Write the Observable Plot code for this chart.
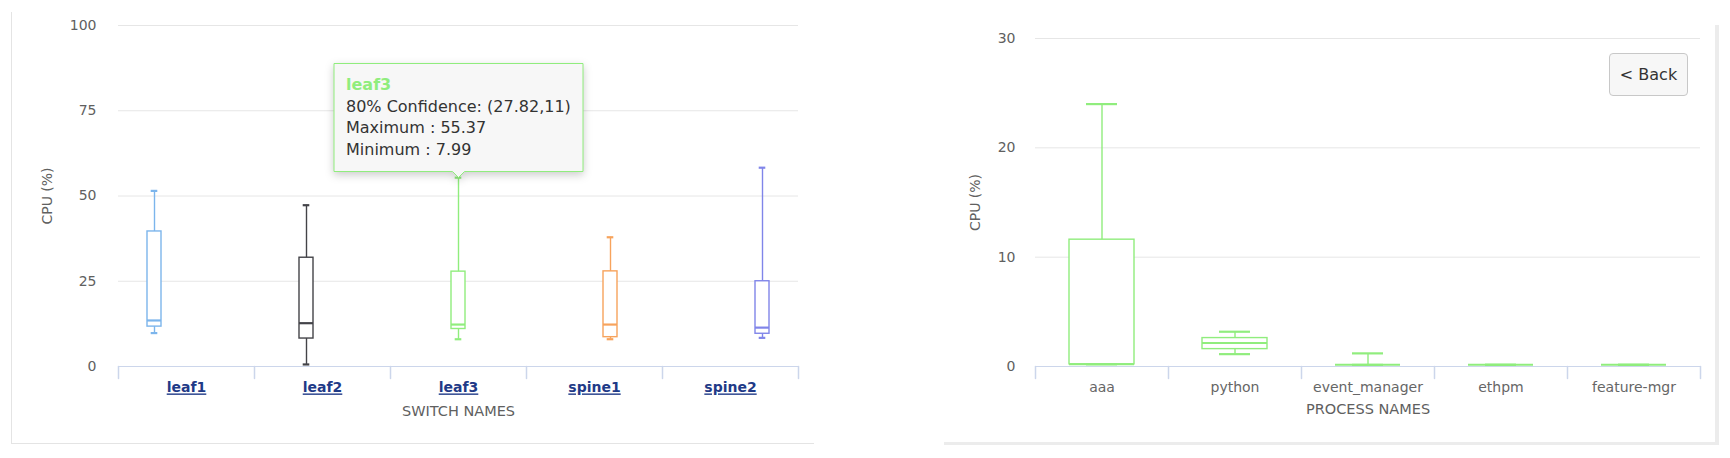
<!DOCTYPE html>
<html>
<head>
<meta charset="utf-8">
<script src="https://cdn.jsdelivr.net/npm/d3@7"></script>
<script src="https://cdn.jsdelivr.net/npm/@observablehq/plot@0.6"></script>
<style>
  body { margin: 0; background: #ffffff; font-family: "DejaVu Sans", sans-serif; }
  #page { position: relative; width: 1730px; height: 458px; overflow: hidden; background: #ffffff; }
  .panelL { position: absolute; left: 11px; top: 12px; width: 802px; height: 431px; border-left: 1px solid #e4e4e4; border-bottom: 1px solid #e4e4e4; }
  .panelR { position: absolute; left: 944px; top: 25px; width: 771px; height: 417px; border-right: 4px solid #ececec; border-bottom: 3px solid #ececec; }
  #left { position: absolute; left: 0; top: 0; }
  #right { position: absolute; left: 900px; top: 0; }
  .back { position: absolute; left: 1609px; top: 53px; width: 77px; height: 41px; border: 1px solid #c8c8c8; border-radius: 4px; background: #f7f7f7; font: 16px "DejaVu Sans", sans-serif; color: #333; display: flex; align-items: center; justify-content: center; }
  .leftplot g[aria-label="y-axis tick label"], .rightplot g[aria-label="y-axis tick label"] { font-size: 14px; }
  .leftplot g[aria-label="y-axis label"], .rightplot g[aria-label="y-axis label"] { font-size: 14px; }
  .leftplot g[aria-label="fx-axis tick label"], .rightplot g[aria-label="fx-axis tick label"] { font-size: 14px; }
  .leftplot g[aria-label="fx-axis tick label"] text { text-decoration: underline; }
  .leftplot g[aria-label="fx-axis label"], .rightplot g[aria-label="fx-axis label"] { font-size: 14.5px; }
  .leftplot g[aria-label="fx-axis label"] text,
  .rightplot g[aria-label="fx-axis label"] text { fill: #606060; font-weight: normal; }
  .leftplot g[aria-label="tip"] { font-size: 16px; }
  .leftplot g[aria-label="tip"] text { fill: #333333; }
  .leftplot g[aria-label="tip"] text > tspan:first-child { fill: #90ed7d; font-weight: bold; }
</style>
</head>
<body>
<div id="page">
  <div class="panelL"></div>
  <div class="panelR"></div>
  <div id="left"></div>
  <div id="right"></div>
  <div class="back">&lt; Back</div>
</div>
<script>
// ---- Left chart: CPU per switch ----
const switches = ["leaf1", "leaf2", "leaf3", "spine1", "spine2"];
const switchLow = [9.8, 0.6, 7.99, 8.0, 8.4];
const switchQ1 = [11.7, 8.2, 11, 8.6, 9.6];
const switchMedian = [13.5, 12.7, 12.3, 12.3, 11.4];
const switchQ3 = [39.6, 31.9, 27.82, 27.9, 25.0];
const switchHigh = [51.5, 47.3, 55.37, 37.9, 58.3];
const switchColors = ["#7cb5ec", "#434348", "#90ed7d", "#f7a35c", "#8085e9"];
const switchTicks = [0, 25, 50, 75, 100];
const tooltipSwitch = "leaf3";

// ---- Right chart: CPU per process (drilldown of leaf3) ----
const processes = ["aaa", "python", "event_manager", "ethpm", "feature-mgr"];
const procLow = [0.2, 1.13, 0.15, 0.15, 0.15];
const procQ1 = [0.2, 1.59, 0.15, 0.15, 0.15];
const procMedian = [0.2, 2.14, 0.15, 0.15, 0.15];
const procQ3 = [11.6, 2.6, 0.15, 0.15, 0.15];
const procHigh = [24.0, 3.18, 1.2, 0.15, 0.15];
const processTicks = [0, 10, 20, 30];
const processSeries = "leaf3";

const switchRows = switches.map((name, i) => ({
  name, low: switchLow[i], q1: switchQ1[i], median: switchMedian[i], q3: switchQ3[i], high: switchHigh[i]
}));
const procRows = processes.map((proc, i) => ({
  proc, series: processSeries, low: procLow[i], q1: procQ1[i], median: procMedian[i], q3: procQ3[i], high: procHigh[i]
}));

const tickShape = { draw(context, l) { context.moveTo(0, 0); context.lineTo(0, -l); } };
const axisColor = "#ccd6eb";
const gridColor = "#e6e6e6";
const labelColor = "#606060";
const font = '"DejaVu Sans", sans-serif';

const leftPlot = Plot.plot({
  className: "leftplot",
  width: 830, height: 458,
  marginLeft: 116, marginRight: 30, marginTop: 25, marginBottom: 92,
  style: { fontFamily: font, fontSize: "14px", color: labelColor, background: "transparent", overflow: "visible" },
  fx: { domain: switches, padding: 0 },
  x: { domain: switches, paddingInner: 0.1, paddingOuter: 1.72, axis: null },
  y: { domain: [0, 100] },
  color: { domain: switches, range: switchColors },
  marks: [
    Plot.gridY(switchTicks.filter(t => t > 0), { stroke: gridColor, strokeOpacity: 1 }),
    Plot.ruleY([0], { stroke: axisColor, strokeOpacity: 1 }),
    Plot.vector(switchRows, { fx: "name", frameAnchor: "bottom-left", length: 12, rotate: 180, anchor: "start", shape: tickShape, stroke: axisColor, fill: "none" }),
    Plot.vector(switchRows.slice(-1), { fx: "name", frameAnchor: "bottom-right", length: 12, rotate: 180, anchor: "start", shape: tickShape, stroke: axisColor, fill: "none" }),
    Plot.axisY(switchTicks, { tickSize: 0, tickPadding: 22, fontSize: 14, fill: labelColor, label: "CPU (%)", labelAnchor: "center", labelOffset: 76, labelArrow: "none" }),
    Plot.axisFx({ anchor: "bottom", tickSize: 0, tickPadding: 16, fontSize: 14, fontWeight: "bold", fill: "#1f3a87", label: "SWITCH NAMES", labelAnchor: "center", labelOffset: 49 }),
    Plot.ruleX(switchRows, { fx: "name", x: "name", y1: "low", y2: "high", stroke: "name", strokeWidth: 1.4 }),
    Plot.barY(switchRows, { fx: "name", x: "name", y1: "q1", y2: "q3", fill: "white", stroke: "name", strokeWidth: 1.4 }),
    Plot.tickY(switchRows, { fx: "name", x: "name", y: "median", stroke: "name", strokeWidth: 2.2 }),
    Plot.tickY(switchRows, { fx: "name", x: "name", y: "high", stroke: "name", strokeWidth: 2.2, inset: 3.7 }),
    Plot.tickY(switchRows, { fx: "name", x: "name", y: "low", stroke: "name", strokeWidth: 2.2, inset: 3.7 }),
    Plot.tip(switchRows.filter(d => d.name === tooltipSwitch), {
      fx: "name", x: "name", y: "high",
      title: d => `${d.name}\n80% Confidence: (${d.q3},${d.q1})\nMaximum : ${d.high}\nMinimum : ${d.low}`,
      anchor: "bottom", fontSize: 16, lineHeight: 1.35, textPadding: 12, pointerSize: 12,
      fill: "#f7f7f7", stroke: switchColors[switches.indexOf(tooltipSwitch)], lineWidth: 40
    })
  ]
});
document.getElementById("left").append(leftPlot);

const rightPlot = Plot.plot({
  className: "rightplot",
  width: 830, height: 458,
  marginLeft: 134, marginRight: 29, marginTop: 38, marginBottom: 92,
  style: { fontFamily: font, fontSize: "14px", color: labelColor, background: "transparent", overflow: "visible" },
  fx: { domain: processes, padding: 0 },
  x: { domain: [processSeries], paddingInner: 0, paddingOuter: 0.515, axis: null },
  y: { domain: [0, 30] },
  color: { domain: switches, range: switchColors },
  marks: [
    Plot.gridY(processTicks.filter(t => t > 0), { stroke: gridColor, strokeOpacity: 1 }),
    Plot.ruleY([0], { stroke: axisColor, strokeOpacity: 1 }),
    Plot.vector(procRows, { fx: "proc", frameAnchor: "bottom-left", length: 12, rotate: 180, anchor: "start", shape: tickShape, stroke: axisColor, fill: "none" }),
    Plot.vector(procRows.slice(-1), { fx: "proc", frameAnchor: "bottom-right", length: 12, rotate: 180, anchor: "start", shape: tickShape, stroke: axisColor, fill: "none" }),
    Plot.axisY(processTicks, { tickSize: 0, tickPadding: 20, fontSize: 14, fill: labelColor, label: "CPU (%)", labelAnchor: "center", labelOffset: 65, labelArrow: "none" }),
    Plot.axisFx({ anchor: "bottom", tickSize: 0, tickPadding: 16, fontSize: 14, fill: "#666666", label: "PROCESS NAMES", labelAnchor: "center", labelOffset: 47 }),
    Plot.ruleX(procRows, { fx: "proc", x: "series", y1: "low", y2: "high", stroke: "series", strokeWidth: 1.4 }),
    Plot.barY(procRows, { fx: "proc", x: "series", y1: "q1", y2: "q3", fill: "white", stroke: "series", strokeWidth: 1.4 }),
    Plot.tickY(procRows, { fx: "proc", x: "series", y: "median", stroke: "series", strokeWidth: 2 }),
    Plot.tickY(procRows, { fx: "proc", x: "series", y: "high", stroke: "series", strokeWidth: 2.2, inset: 17 }),
    Plot.tickY(procRows, { fx: "proc", x: "series", y: "low", stroke: "series", strokeWidth: 2.2, inset: 17 })
  ]
});
document.getElementById("right").append(rightPlot);
</script>
</body>
</html>
